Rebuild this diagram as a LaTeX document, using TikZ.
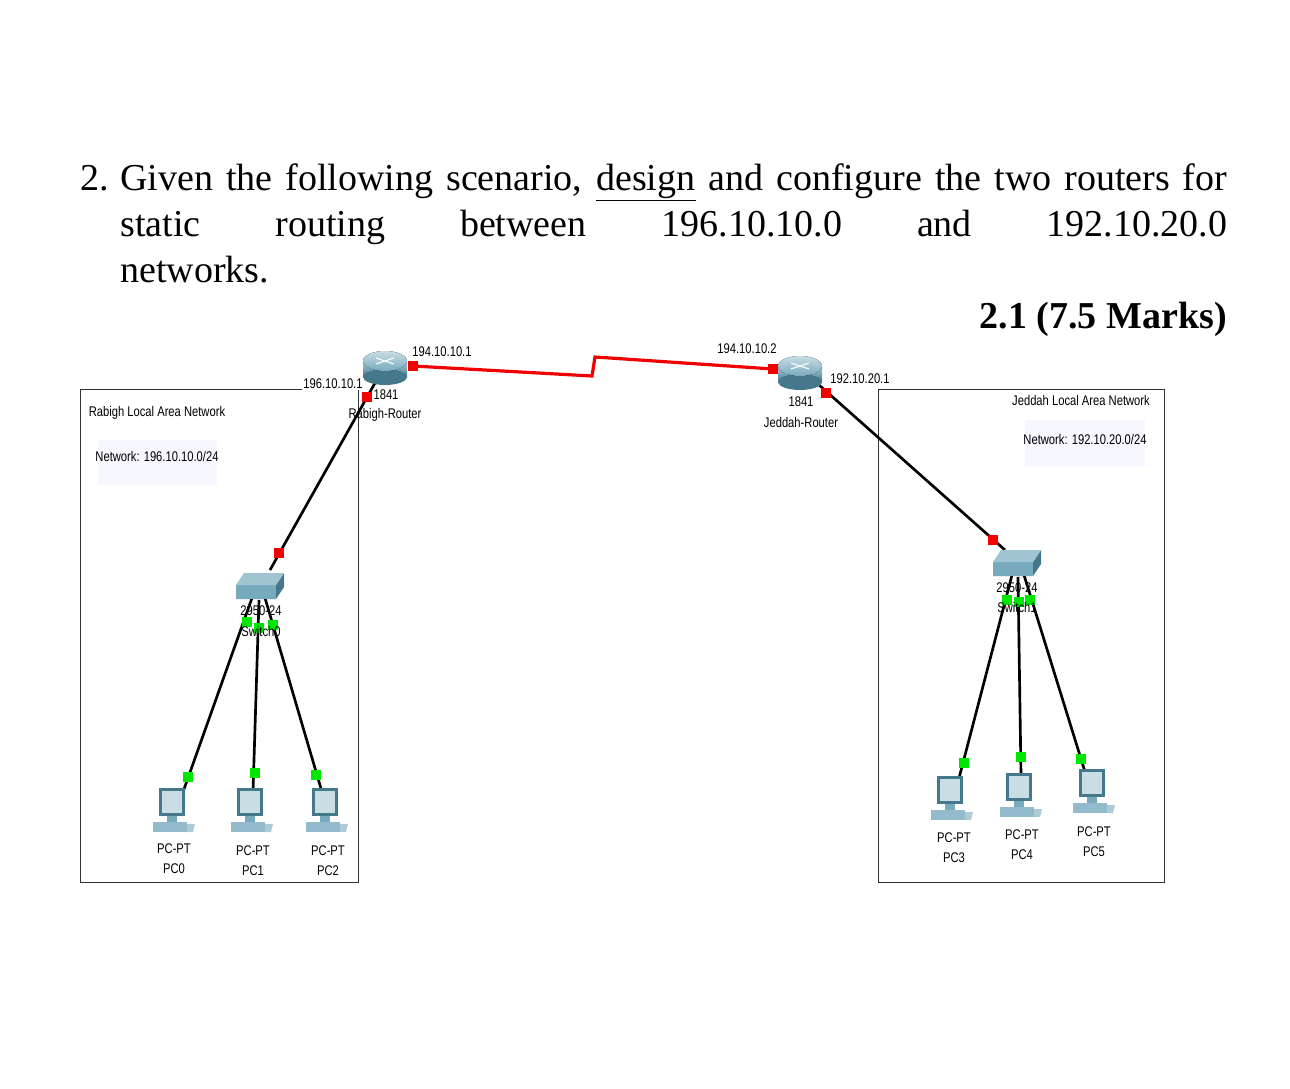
\documentclass[tikz,border=0pt]{standalone}
\usepackage{fontspec}
\setmainfont{Liberation Serif}
\newfontfamily\lab{Liberation Sans}[FakeStretch=0.8]
\usetikzlibrary{calc}
\definecolor{dev}{RGB}{120,170,190}
\definecolor{devd}{RGB}{70,120,140}
\definecolor{linkred}{RGB}{240,0,0}
\definecolor{grn}{RGB}{0,230,0}
\tikzset{
  x=0.75pt,y=-0.75pt,
  lbl/.style={font=\lab\fontsize{10.5}{12}\selectfont,inner sep=1pt},
  cable/.style={line width=2pt,black},
  serial/.style={line width=2.4pt,linkred},
  rdot/.style={fill=linkred,minimum size=7pt,inner sep=0pt,draw=none},
  gdot/.style={fill=grn,minimum size=7pt,inner sep=0pt,draw=none},
  area/.style={draw=black!80,line width=0.6pt},
  router/.pic={
    \fill[top color=dev!60,bottom color=devd] (-22,-4) rectangle (22,12);
    \fill[devd] (0,12) ellipse (22 and 8);
    \fill[top color=dev!40,bottom color=dev] (0,-4) ellipse (22 and 10);
    \draw[white,line width=0.8pt] (-9,-7)--(9,-1) (-9,-1)--(9,-7);
  },
  switch/.pic={
    \fill[devd] (-24,0) -- (16,0) -- (24,-12) -- (24,2) -- (16,14) -- (-24,14) -- cycle;
    \fill[dev] (-24,0) rectangle (16,14);
    \fill[dev!70] (-16,-12) -- (24,-12) -- (16,0) -- (-24,0) -- cycle;
  },
  pc/.pic={
    \fill[devd] (-14,-24) rectangle (12,4);
    \fill[dev!40] (-11,-21) rectangle (9,1);
    \fill[dev] (-6,4) rectangle (4,10);
    \fill[dev!80] (-20,10) rectangle (14,20);
    \fill[dev!60] (14,12) -- (22,12) -- (20,20) -- (14,20) -- cycle;
  }
}
\begin{document}
\begin{tikzpicture}
\useasboundingbox (0,0) rectangle (1290,1089);
% title
\node[anchor=base west,inner sep=0,font=\fontsize{28.5}{32}\selectfont] (t0) at (80,190) {2.};
\node[anchor=base west,inner sep=0,font=\fontsize{28.5}{32}\selectfont] (t1) at (120,190)
 {\makebox[830.25pt][s]{Given the following scenario, \underline{design} and configure the two routers for}};
\node[anchor=base west,inner sep=0,font=\fontsize{28.5}{32}\selectfont] (t2) at (120,236)
 {\makebox[830.25pt][s]{static\hfill routing\hfill between\hfill 196.10.10.0\hfill and\hfill 192.10.20.0}};
\node[anchor=base west,inner sep=0,font=\fontsize{28.5}{32}\selectfont] (t3) at (120,282) {networks.};
\node[anchor=base east,inner sep=0,font=\fontsize{28.5}{32}\selectfont\bfseries] (t4) at (1227,328) {2.1 (7.5 Marks)};
% areas
\draw[area] (300,389) -- (358,389) -- (358,882) -- (80,882) -- (80,389) -- (300,389);
\draw[area] (878,389) rectangle (1164,882);
\fill[blue!3] (98,440) rectangle (217,485);
\fill[blue!3] (1025,420) rectangle (1145,467);
\node[lbl] (la) at (157,413) {Rabigh Local Area Network};
\node[lbl] (ln) at (157,456) {Network: 196.10.10.0/24};
\node[lbl] (ra) at (1081,400) {Jeddah Local Area Network};
\node[lbl] (rn) at (1085,439) {Network: 192.10.20.0/24};
% coordinates
\coordinate (R1) at (385,365);
\coordinate (R2) at (800,370);
\coordinate (S0) at (260,585);
\coordinate (S1) at (1017,562);
% serial link
\node[rdot] (p1) at (413,366) {};
\node[rdot] (p2) at (773,369) {};
\coordinate (z1) at (592,376);
\coordinate (z2) at (595,357);
\draw[serial] (p1) -- (z1) -- (z2) -- (p2);
% router - switch
\coordinate (e1) at (375,383);
\coordinate (e2) at (270,570);
\draw[cable] (e1) -- (e2);
\node[rdot] (p3) at (367,397) {};
\node[rdot] (p4) at (279,553) {};
\coordinate (e3) at (818,384);
\coordinate (e4) at (1005,550);
\draw[cable] (e3) -- (e4);
\node[rdot] (p5) at (826,393) {};
\node[rdot] (p6) at (993,540) {};
% switch - PCs
\coordinate (a0) at (252,598); \coordinate (a1) at (259,600); \coordinate (a2) at (265,598);
\coordinate (b0) at (183,792); \coordinate (b1) at (253,792); \coordinate (b2) at (322,792);
\draw[cable] (a0) -- (b0); \draw[cable] (a1) -- (b1); \draw[cable] (a2) -- (b2);
\coordinate (c0) at (1012,575); \coordinate (c1) at (1018,577); \coordinate (c2) at (1024,575);
\coordinate (d0) at (958,782); \coordinate (d1) at (1021,775); \coordinate (d2) at (1086,775);
\draw[cable] (c0) -- (d0); \draw[cable] (c1) -- (d1); \draw[cable] (c2) -- (d2);
% devices
\pic at (R1) {router};
\pic at (R2) {router};
\pic at (S0) {switch};
\pic at (S1) {switch};
\pic at (173,812) {pc};
\pic at (251,812) {pc};
\pic at (326,812) {pc};
\pic at (951,800) {pc};
\pic at (1020,797) {pc};
\pic at (1093,793) {pc};
\node[rdot] at (p1) {};
% green dots
\node[gdot] (g1) at (247,622) {}; \node[gdot] (g2) at (259,628) {}; \node[gdot] (g3) at (273,625) {};
\node[gdot] (g4) at (188,777) {}; \node[gdot] (g5) at (255,773) {}; \node[gdot] (g6) at (316,775) {};
\node[gdot] (g7) at (1007,600) {}; \node[gdot] (g8) at (1019,602) {}; \node[gdot] (g9) at (1030,600) {};
\node[gdot] (g10) at (964,763) {}; \node[gdot] (g11) at (1021,757) {}; \node[gdot] (g12) at (1081,759) {};
% labels
\node[lbl,fill=white] (i1) at (333,384) {196.10.10.1};
\node[lbl] (i2) at (442,352) {194.10.10.1};
\node[lbl] (i3) at (747,349) {194.10.10.2};
\node[lbl] (i4) at (860,379) {192.10.20.1};
\node[lbl] (m1) at (386,395) {1841};
\node[lbl] (n1) at (385,415) {Rabigh-Router};
\node[lbl] (m2) at (801,402) {1841};
\node[lbl] (n2) at (801,422) {Jeddah-Router};
\node[lbl] (s0a) at (261,611) {2950-24};
\node[lbl] (s0b) at (261,631) {Switch0};
\node[lbl] (s1a) at (1017,588) {2950-24};
\node[lbl] (s1b) at (1017,607) {Switch1};
\foreach \x/\y/\n in {174/849/0,253/851/1,328/851/2,954/838/3,1022/835/4,1094/832/5}{
  \node[lbl] at (\x,\y) {PC-PT};
  \node[lbl] at (\x,\y+20) {PC\n};
}
\end{tikzpicture}
\end{document}
